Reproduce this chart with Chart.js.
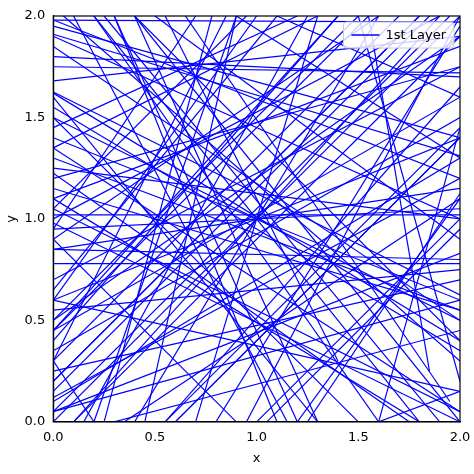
<!DOCTYPE html>
<html><head><meta charset="utf-8">
<script src="https://cdn.jsdelivr.net/npm/chart.js@4/dist/chart.umd.min.js"></script>
<style>html,body{margin:0;padding:0;background:#fff}#w{width:474px;height:474px}</style>
</head><body><div id="w"><canvas id="c"></canvas></div>
<script>
const seriesName = "1st Layer";
const tickValues = [0.0, 0.5, 1.0, 1.5, 2.0];
// line segments, estimated edge-to-edge endpoints
const lineX1 = [0,0,0.1,0,0.3,0.45,0,0.5,1.2,0,1.5,0,0,0,0,0.2,0,0,0.6,0,0,0.9,1.1,0,0,0,0.35,0,0.8,1.3,0,0,0,0.25,0,0.05,0,1.0,0,0,0.55,0,0,0,0.7,1.6,0,0,0,0.15,0,0,1.8,0,0.4,0,0,0,0.95,0,0,1.4,0,0,0.1,0,0.65,0,0.3,0,
  0.4,0,0,0.2,0,0.1,0,0.7, 0,0.4,0,0.25,0,0.55, 1.0,0,1.55,0,1.25, 1.05,0,1.75, 0.6,0.55,0,0, 0,0.9,1.1,0, 0.2,0.9,1.6];
const lineY1 = [0,0.05,0,0.15,2,0,1.95,2,0,1.45,2,1.75,0.78,0.55,1.3,2,1.0,0.3,0,1.85,0.95,2,0,1.6,0.45,1.2,0,0.65,0,0,1.9,0.2,1.55,2,0.9,2,1.1,2,0.1,1.35,0,1.68,0.4,1.98,2,0,0.6,1.25,0.85,0,1.4,0.25,0,1.02,2,0.7,1.5,0.35,0,1.8,0.5,2,1.15,0.05,2,0.98,2,1.62,0,0.12,
  0,0.6,1.5,2,0.2,0,0.85,0, 1.35,2,1.91,0,0.3,2, 0,1.625,2,0.05,0, 0,1.05,0, 0,0,0.5,0.45, 1.98,2,2,1.05, 0,0,0];
const lineX2 = [2,1.95,2,1.85,1.2,0.9,2,2,2,1.2,2,2,2,2,2,1.6,1.9,1.7,2,2,2,0.2,0.3,1.3,2,2,2,1.1,2,0.4,2,1.8,2,1.9,1.6,2,2,0,2,2,2,2,1.4,2,0,2,2,2,2,1.25,2,2,0,2,2,2,1.5,2,2,2,2,0,2,2,1.15,2,1.95,2,2,2,
  1.6,2,2,1.8,1.8,1.9,2,1.3, 1.3,2,2,0.78,0.85,1.4, 2,2,1.85,2,2, 2,2,0, 2,2,1.5,1.55, 2,2,2,0.95, 0,0,2];
const lineY2 = [2,2,1.9,2,0,2,1.4,0.9,1.1,2,0.2,1.72,0.78,0.75,0.55,0,2,2,1.4,0.5,1.05,0,2,0,1.6,1.75,1.1,2,1.95,2,1.0,2,0.35,0,2,0.3,1.85,0.6,1.3,0.05,1.65,1.9,2,1.2,0.95,1.45,0.15,1.0,0.8,2,0.6,0.7,1.1,1.02,0,1.75,0,1.5,2,1.7,1.9,0.45,0.55,0.6,0,0.0,0.1,0.4,0.45,1.2,
  2,1.4,0.5,0,2,2,1.15,2, 2,0.4,1.31,2,2,0.3, 1.0,0.625,0.25,0.83,1.125, 0.95,0.05,1.225, 1.4,1.45,2,2, 1.97,1.3,1.6,2, 0.3,0.9,0.15];

const datasets = lineX1.map((x,i)=>({
  label: seriesName,
  data: [{x:x,y:lineY1[i]},{x:lineX2[i],y:lineY2[i]}],
  showLine: true, borderColor: '#0000ff', borderWidth: 1.2,
  pointRadius: 0, fill: false
}));

const legendPlugin = {
  id: 'inLegend',
  afterDraw(chart){
    const {ctx, chartArea:a} = chart;
    ctx.save();
    ctx.strokeStyle = '#000'; ctx.lineWidth = 1.2;
    ctx.strokeRect(a.left, a.top, a.right-a.left, a.bottom-a.top);
    ctx.font = '13px "DejaVu Sans"';
    const tw = ctx.measureText(seriesName).width;
    const w = tw + 50, h = 26;
    const x = a.right - w - 6, y = a.top + 6;
    ctx.fillStyle = 'rgba(255,255,255,0.8)';
    ctx.strokeStyle = '#cccccc';
    ctx.lineWidth = 1;
    ctx.beginPath(); ctx.roundRect(x, y, w, h, 3); ctx.fill(); ctx.stroke();
    ctx.strokeStyle = '#0000ff'; ctx.lineWidth = 1.5;
    ctx.beginPath(); ctx.moveTo(x+8, y+h/2); ctx.lineTo(x+36, y+h/2); ctx.stroke();
    ctx.fillStyle = '#000'; ctx.textBaseline = 'middle';
    ctx.fillText(seriesName, x+42, y+h/2+1);
    ctx.restore();
  }
};

const tickOpts = {
  color:'#000', font:{family:'DejaVu Sans', size:13},
  callback: v => v.toFixed(1)
};
new Chart(document.getElementById('c'), {
  type: 'scatter',
  data: { datasets },
  plugins: [legendPlugin],
  options: {
    responsive: true, maintainAspectRatio: false, animation: false,
    layout: { padding: { top: 16, right: 14, left: 0, bottom: 4 } },
    plugins: { legend: { display: false }, tooltip: { enabled: false } },
    scales: {
      x: { type:'linear', min:0, max:2,
        afterBuildTicks: s => { s.ticks = tickValues.map(v=>({value:v})); },
        ticks: tickOpts,
        grid: { display:false, drawTicks:true, tickLength:5, color:'#000' },
        border: { color:'#000', width:1.2 },
        title: { display:true, text:'x', color:'#000', font:{family:'DejaVu Sans', size:13}, padding:{top:2} } },
      y: { type:'linear', min:0, max:2,
        afterBuildTicks: s => { s.ticks = tickValues.map(v=>({value:v})); },
        ticks: tickOpts,
        grid: { display:false, drawTicks:true, tickLength:5, color:'#000' },
        border: { color:'#000', width:1.2 },
        title: { display:true, text:'y', color:'#000', font:{family:'DejaVu Sans', size:13}, padding:{bottom:2} } }
    }
  },
});
</script></body></html>
